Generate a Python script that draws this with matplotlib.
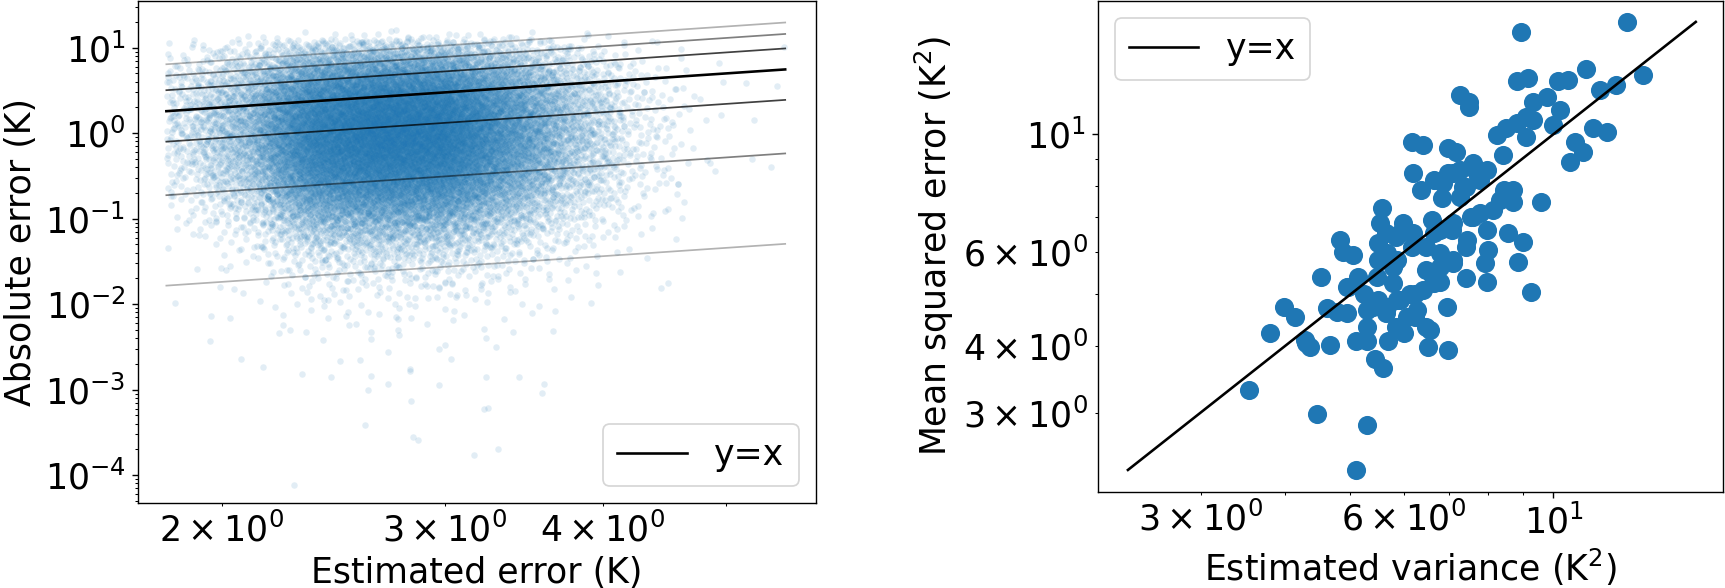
# region imports
import matplotlib
matplotlib.use("Agg")
import matplotlib.pyplot as plt
from matplotlib.ticker import FuncFormatter
import numpy as np
# endregion

# region data
# left panel: the cloud is far too dense to read point by point, so it is kept
# as approximate point counts per cell (log10 estimated error x log10 abs error)
cloud_logx_edges = [0.2574, 0.30, 0.35, 0.40, 0.45, 0.50, 0.55, 0.60, 0.65, 0.70, 0.7459]
cloud_logy_edges = [1.15, 1.00, 0.75, 0.50, 0.25, 0.00, -0.25, -0.50, -0.75, -1.00, -1.25,
                    -1.50, -1.75, -2.00, -2.25, -2.50, -2.75, -3.00, -3.25, -3.50, -3.75,
                    -4.00, -4.25]
cloud_counts = [
    [1, 7, 15, 20, 22, 16, 8, 2, 0, 0],
    [20, 75, 190, 250, 240, 150, 60, 13, 2, 1],
    [40, 145, 400, 520, 490, 290, 110, 24, 3, 1],
    [52, 200, 580, 740, 700, 400, 145, 32, 3, 1],
    [55, 220, 660, 840, 790, 440, 160, 36, 3, 1],
    [50, 210, 660, 830, 780, 430, 155, 35, 3, 1],
    [38, 170, 580, 720, 680, 370, 130, 30, 2, 1],
    [24, 120, 440, 540, 510, 270, 95, 22, 2, 0],
    [12, 70, 280, 340, 320, 170, 58, 13, 1, 0],
    [5, 33, 150, 185, 170, 90, 30, 7, 1, 0],
    [2, 13, 65, 82, 76, 40, 14, 3, 0, 0],
    [1, 6, 28, 35, 32, 18, 7, 2, 0, 0],
    [1, 3, 13, 16, 14, 8, 3, 1, 0, 0],
    [1, 2, 6, 7, 7, 4, 1, 0, 0, 0],
    [0, 1, 4, 4, 4, 2, 1, 0, 0, 0],
    [0, 1, 2, 2, 2, 1, 0, 0, 0, 0],
    [0, 1, 1, 2, 2, 1, 0, 0, 0, 0],
    [0, 0, 1, 1, 1, 1, 0, 0, 0, 0],
    [0, 0, 1, 1, 1, 0, 0, 0, 0, 0],
    [0, 0, 0, 1, 1, 0, 0, 0, 0, 0],
    [0, 0, 0, 0, 1, 0, 0, 0, 0, 0],
    [0, 1, 0, 0, 0, 0, 0, 0, 0, 0],
]
# lines y = k*x drawn over the range of the estimated error
line_x = [1.809, 5.57]
line_factors = [0.0091, 0.104, 0.44, 1.76, 2.6, 3.54]
line_alphas = [0.3, 0.5, 0.75, 0.75, 0.5, 0.3]

# right panel
est_var = [12.86, 8.94, 11.19, 13.58, 8.82, 9.17, 10.16, 10.51, 11.72, 12.40,
           7.26, 7.49, 7.49, 9.33, 9.77, 10.22, 9.99, 9.12, 9.33, 8.24,
           8.52, 8.82, 9.12, 11.45, 11.99, 10.75, 11.06, 10.57, 6.17, 6.41,
           6.99, 7.18, 8.42, 7.60, 7.96, 7.26, 7.78, 6.20, 6.36, 6.86,
           7.10, 7.43, 6.83, 7.26, 8.72, 8.72, 8.33, 8.14, 9.59, 5.57,
           5.54, 5.99, 6.20, 6.60, 6.79, 7.10, 7.60, 7.96, 7.78, 4.82,
           4.88, 5.05, 5.50, 5.66, 5.85, 8.56, 9.02, 8.00, 7.91, 8.87,
           6.48, 6.79, 7.10, 7.43, 4.53, 4.94, 5.23, 5.47, 6.63, 6.79,
           7.43, 7.96, 9.28, 3.98, 4.14, 4.61, 4.77, 4.94, 4.96, 5.14,
           3.80, 4.36, 4.66, 4.28, 5.29, 5.29, 5.44, 5.59, 5.69, 5.66,
           5.92, 6.06, 5.85, 6.27, 6.48, 6.52, 6.95, 6.99, 6.13, 6.41,
           5.41, 3.54, 4.46, 5.30, 5.10, 5.79, 6.48, 6.79, 7.10, 6.65,
           6.99, 7.54, 7.73, 7.35, 8.45, 7.54, 7.08, 6.65, 7.45, 6.90,
           6.65, 6.24, 5.86, 6.24, 6.01, 6.56, 5.65, 5.86, 6.17, 5.92,
           5.65, 5.50, 5.79, 5.50, 5.30, 4.30, 5.10]
mse = [16.26, 15.59, 13.25, 12.93, 12.58, 12.74, 12.58, 12.65, 12.11, 12.38,
       11.86, 11.52, 11.27, 11.52, 11.77, 11.11, 10.41, 9.90, 10.64, 9.97,
       10.26, 10.49, 10.79, 10.26, 10.11, 9.68, 9.27, 8.88, 9.68, 9.55,
       9.41, 9.27, 9.14, 8.82, 8.57, 8.57, 8.21, 8.45, 7.86, 8.09,
       8.45, 7.97, 7.58, 7.63, 7.86, 7.47, 7.52, 7.21, 7.47, 7.26,
       6.80, 6.80, 6.51, 6.90, 6.61, 6.80, 7.00, 6.61, 7.10, 6.33,
       6.01, 5.93, 6.24, 5.97, 6.42, 6.51, 6.28, 6.06, 5.72, 5.76,
       6.15, 5.97, 5.80, 6.15, 5.40, 5.17, 5.02, 5.40, 5.40, 5.28,
       5.36, 5.28, 5.06, 4.74, 4.54, 4.71, 4.64, 4.61, 5.17, 5.40,
       4.23, 3.99, 4.02, 4.11, 4.35, 4.08, 3.79, 3.63, 4.08, 4.74,
       4.88, 4.54, 4.35, 4.67, 4.35, 3.99, 4.74, 3.93, 5.02, 5.10,
       4.74, 3.31, 2.98, 2.84, 2.34, 5.64, 5.56, 5.64, 5.72, 8.21,
       8.45, 8.69, 8.33, 7.97, 7.86, 7.00, 6.61, 6.51, 6.33, 5.80,
       5.25, 5.02, 4.88, 4.54, 4.23, 4.29, 4.61, 5.80, 6.15, 6.51,
       6.51, 5.80, 5.25, 4.88, 4.67, 4.05, 4.08]
# endregion

# region functions
def vanDerCorput(i, base):
    """
    radical inverse of the integers i in the given base
    """
    i = i.copy()
    r = np.zeros(len(i))
    f = 1.0
    while np.any(i > 0):
        f /= base
        r += f * (i % base)
        i //= base
    return r

def tent(u):
    """
    map even spacing on [0,1) to a tent profile on [-1,1]
    """
    return np.where(u < 0.5, np.sqrt(2 * u) - 1, 1 - np.sqrt(2 * (1 - u)))

def cloudPoints(xedges, yedges, counts):
    """
    Spread the points of each cell evenly (Halton sequence) with a tent profile
    reaching the neighbouring cell centres, so that the cells blend smoothly
    :return (x, y) arrays in data units
    """
    xs, ys = [], []
    k = 1
    xmin, xmax = xedges[0], xedges[-1]
    for r, row in enumerate(counts):
        yc = 0.5 * (yedges[r] + yedges[r + 1])
        h = yedges[r] - yedges[r + 1]
        for c, n in enumerate(row):
            if n == 0:
                continue
            xc = 0.5 * (xedges[c] + xedges[c + 1])
            w = xedges[c + 1] - xedges[c]
            i = np.arange(n) + k
            px = xc + w * tent(vanDerCorput(i, 2))
            py = yc + h * tent(vanDerCorput(i, 3))
            # fold back whatever passes the ends of the estimated error range
            px = np.where(px < xmin, 2 * xmin - px, px)
            px = np.where(px > xmax, 2 * xmax - px, px)
            xs.append(px)
            ys.append(py)
            k += n + 7
    return 10 ** np.concatenate(xs), 10 ** np.concatenate(ys)

def minorLabel(v, pos):
    """
    only 3 and 6 carry a label between the decades on the right x axis
    """
    c = int(round(v))
    if c in (3, 6):
        return r'$\mathdefault{%d\times10^{0}}$' % c
    return ''

def main():
    plt.rcParams['font.size'] = 20
    fig = plt.figure(figsize=(13.8, 4.704), dpi=125)

    # left: absolute error vs estimated error
    ax1 = fig.add_axes([0.0798, 0.1440, 0.3932, 0.8543])
    cx, cy = cloudPoints(cloud_logx_edges, cloud_logy_edges, cloud_counts)
    ax1.scatter(cx, cy, s=14, alpha=0.13, linewidths=0, color='C0')
    lx = np.array(line_x)
    for k, a in zip(line_factors, line_alphas):
        ax1.plot(lx, k * lx, color='black', alpha=a, lw=1.0)
    ax1.plot(lx, lx, color='black', lw=1.5, label='y=x')
    ax1.set_xscale('log')
    ax1.set_yscale('log')
    ax1.set_xlim(1.717, 5.89)
    ax1.set_ylim(4.67e-5, 35.2)
    ax1.set_xlabel("Estimated error (K)")
    ax1.set_ylabel("Absolute error (K)")
    ax1.legend(loc='lower right')

    # right: mean squared error vs estimated variance
    ax2 = fig.add_axes([0.6363, 0.1638, 0.3627, 0.8345])
    ev = np.array(est_var)
    ms = np.array(mse)
    ax2.scatter(ev, ms, s=100, color='C0')
    lo = min(ev.min(), ms.min())
    hi = max(ev.max(), ms.max())
    ax2.plot([lo, hi], [lo, hi], color='black', lw=1.5, label='y=x')
    ax2.set_xscale('log')
    ax2.set_yscale('log')
    ax2.set_xlim(2.11, 17.86)
    ax2.set_ylim(2.13, 17.8)
    ax2.xaxis.set_minor_formatter(FuncFormatter(minorLabel))
    ax2.set_xlabel("Estimated variance (K$^2$)")
    ax2.set_ylabel("Mean squared error (K$^2$)")
    ax2.legend(loc='upper left')

    fig.savefig("out.png", dpi=125)
# endregion

# region function calls
if __name__ == "__main__":
    main()
# endregion
